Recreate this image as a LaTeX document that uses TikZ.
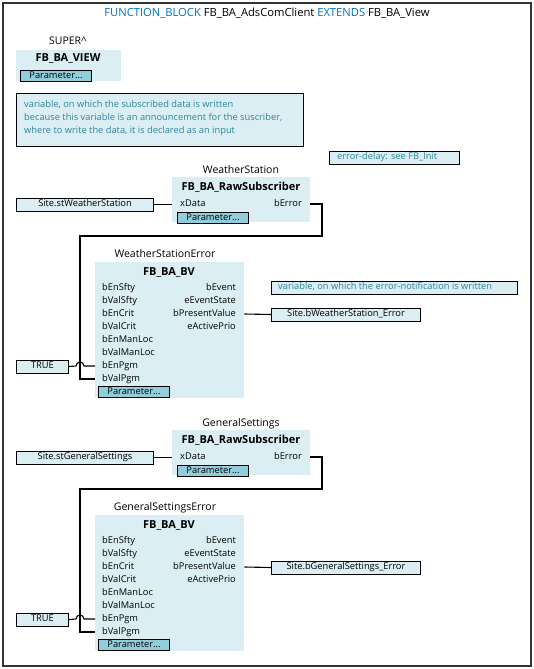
\documentclass[tikz,border=0pt]{standalone}
\usepackage{fontspec}
\setmainfont{Open Sans}
\usetikzlibrary{calc}

\definecolor{fbfill}{RGB}{218,238,243}
\definecolor{parfill}{RGB}{146,205,220}
\definecolor{cmttext}{RGB}{49,133,156}
\definecolor{kwblue}{RGB}{0,112,192}

\newcommand{\fbfont}{\fontsize{9.3}{13}\selectfont}
\newcommand{\fbtitlefont}{\fontsize{11}{13}\selectfont\bfseries}

\tikzset{
  fbblock/.style={fill=fbfill, draw=none, anchor=north west, inner sep=0},
  pin/.style={font=\fbfont, inner sep=0, text height=6.5, text depth=2},
  fbtype/.style={pin, font=\fbtitlefont, text height=8},
  parbox/.style={pin, fill=parfill, draw=black, line width=1, anchor=north west,
    minimum width=71, minimum height=11},
  varbox/.style={pin, fill=fbfill, draw=black, line width=1, anchor=north west,
    minimum height=13},
  cmtbox/.style={fbblock, draw=black, line width=1},
  cmt/.style={pin, text=cmttext, anchor=west},
  wire/.style={draw=black, line width=1.1},
}

\begin{document}
\begin{tikzpicture}[x=1pt, y=-1pt]

  \useasboundingbox (0,0) rectangle (534,669);

  % Outer frame and header
  \draw[line width=1.3, draw=black!80] (3,3) rectangle (531,666);
  \node[pin, font=\fontsize{11.2}{13}\selectfont, text height=8] (title) at (267,14) {\textcolor{kwblue}{FUNCTION\_BLOCK} FB\_BA\_AdsComClient \textcolor{kwblue}{EXTENDS} FB\_BA\_View};

  % SUPER^ call
  \node[pin, font=\fontsize{10.5}{13}\selectfont] (super) at (68,42) {SUPER\textasciicircum};
  \node[fbblock, minimum width=105, minimum height=31] (view) at (16,50) {};
  \node[fbtype] (view-type) at (68,59) {FB\_BA\_VIEW};
  \node[parbox] (view-par) at (20,70) {Parameter...};

  % Comments
  \node[cmtbox, minimum width=287, minimum height=53] (cmt-data) at (16,93) {};
  \node[cmt] (cmt-data-1) at (24,105) {variable, on which the subscribed data is written};
  \node[cmt] (cmt-data-2) at (24,118) {because this variable is an announcement for the suscriber,};
  \node[cmt] (cmt-data-3) at (24,131) {where to write the data, it is declared as an input};

  \node[cmtbox, minimum width=130, minimum height=13] (cmt-delay) at (329,151) {};
  \node[cmt] at (337,157.5) {error-delay: see FB\_Init};

  \node[cmtbox, minimum width=246, minimum height=13] (cmt-err) at (271,281) {};
  \node[cmt] at (278,287.5) {variable, on which the error-notification is written};

  % Subscriber and error blocks, once for each subscribed variable
  \foreach \g/\dy/\inst/\var/\err in {1/0/WeatherStation/stWeatherStation/bWeatherStation\_Error,
                                      2/253/GeneralSettings/stGeneralSettings/bGeneralSettings\_Error} {
  \begin{scope}[yshift=-\dy]
    % FB_BA_RawSubscriber
    \node[pin, font=\fontsize{10.5}{13}\selectfont] (rs\g-name) at (241,171) {\inst};
    \node[fbblock, minimum width=138, minimum height=45] (rs\g) at (172,177) {};
    \node[fbtype] (rs\g-type) at (241,187) {FB\_BA\_RawSubscriber};
    \node[pin, anchor=west] (rs\g-xData) at (180,204) {xData};
    \node[pin, anchor=east] (rs\g-bError) at (302,204) {bError};
    \node[parbox] (rs\g-par) at (177,212) {Parameter...};
    \node[varbox, minimum width=137] (in\g) at (16,197.5) {Site.\var};
    \coordinate (rs\g-turn) at (322,236);

    % FB_BA_BV
    \node[pin, font=\fontsize{10.5}{13}\selectfont] (bv\g-name) at (165,255) {\inst Error};
    \node[fbblock, minimum width=149, minimum height=136] (bv\g) at (95,262) {};
    \node[fbtype] (bv\g-type) at (169,272) {FB\_BA\_BV};
    \foreach \p [count=\i] in {bEnSfty,bValSfty,bEnCrit,bValCrit,bEnManLoc,bValManLoc,bEnPgm,bValPgm}
      \node[pin, anchor=west] (bv\g-\p) at (102,275+13*\i) {\p};
    \foreach \p [count=\i] in {bEvent,eEventState,bPresentValue,eActivePrio}
      \node[pin, anchor=east] (bv\g-\p) at (236,275+13*\i) {\p};
    \node[parbox] (bv\g-par) at (98,386) {Parameter...};
    \node[varbox, minimum width=52] (true\g) at (16,359.5) {TRUE};
    \node[varbox, minimum width=149] (out\g) at (271,307.5) {Site.\err};
    \coordinate (bv\g-jump) at (80,366);

    % Wires
    \draw[wire] (in\g.east) -- (rs\g.west |- in\g.east);
    \draw[wire] (rs\g.east |- rs\g-bError) -| (rs\g-turn) -- (rs\g-turn -| bv\g-jump)
      |- (bv\g.west |- bv\g-bValPgm);
    \draw[wire] (true\g.east) -- ($(bv\g-jump)+(-4,0)$) arc[start angle=180, end angle=0, radius=4pt]
      -- (bv\g.west |- bv\g-bEnPgm);
    \draw[wire] (bv\g.east |- bv\g-bPresentValue) -- (out\g.west);
  \end{scope}
  }

\end{tikzpicture}
\end{document}
